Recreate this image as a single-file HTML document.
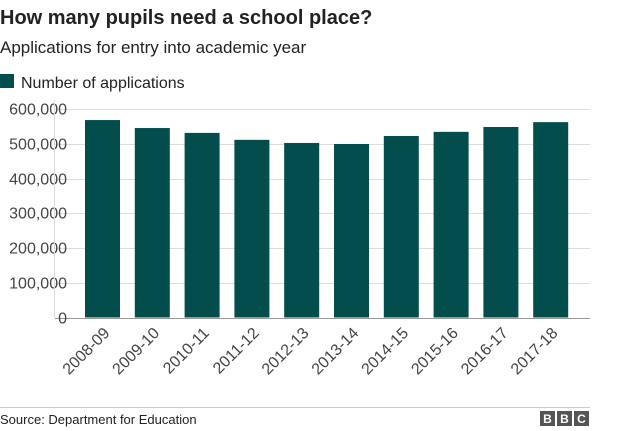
<!DOCTYPE html>
<html><head><meta charset="utf-8"><style>
body{margin:0;background:#fff;font-family:"Liberation Sans",Arial,sans-serif;}
#c{position:relative;width:624px;height:431px;overflow:hidden;}
</style></head><body>
<div id="c">
<svg id="s" width="624" height="431" xmlns="http://www.w3.org/2000/svg" font-family="Liberation Sans, Arial, sans-serif">
<text x="0" y="24" font-size="20" font-weight="bold" fill="#222">How many pupils need a school place?</text>
<text x="0" y="53" font-size="17" fill="#222">Applications for entry into academic year</text>
<rect x="0" y="74" width="14" height="14" fill="#034d4d"/>
<text x="21" y="88" font-size="16" fill="#222">Number of applications</text>
<g id="grid"></g><g id="bars"></g><g id="labels"></g>
<line x1="0" y1="407.5" x2="590" y2="407.5" stroke="#ccc"/>
<text x="0" y="424" font-size="13" fill="#222">Source: Department for Education</text>
<g>
<rect x="540" y="411" width="15" height="15" fill="#555"/><text x="547.5" y="423" font-size="12" font-weight="bold" fill="#fff" text-anchor="middle">B</text>
<rect x="557" y="411" width="15" height="15" fill="#555"/><text x="564.5" y="423" font-size="12" font-weight="bold" fill="#fff" text-anchor="middle">B</text>
<rect x="574" y="411" width="15" height="15" fill="#555"/><text x="581.5" y="423" font-size="12" font-weight="bold" fill="#fff" text-anchor="middle">C</text>
</g>
</svg></div>
<script>
const categories=["2008-09","2009-10","2010-11","2011-12","2012-13","2013-14","2014-15","2015-16","2016-17","2017-18"];
const values=[569000,546000,532000,512000,503000,500000,523000,535000,549000,563000];
const ticks=[0,100000,200000,300000,400000,500000,600000];
const tickLabels=["0","100,000","200,000","300,000","400,000","500,000","600,000"];
const NS="http://www.w3.org/2000/svg";
const y0=317.5,pxPer=34.7/100000;
const y=v=>y0-v*pxPer;
const x=i=>102.5+i*49.8;
const g=document.getElementById('grid'),b=document.getElementById('bars'),l=document.getElementById('labels');
function mk(t,a){const e=document.createElementNS(NS,t);for(const k in a)e.setAttribute(k,a[k]);return e;}
ticks.forEach((t,i)=>{
 const yy=Math.round(y(t))+0.5;
 const ln=mk('line',{x1:55,x2:590,y1:yy,y2:yy,stroke:t===0?'#999':'#ddd'});
 
 
 g.appendChild(ln);
 const tx=mk('text',{x:67,y:yy+5,'font-size':16,fill:'#444','text-anchor':'end'});
 tx.textContent=tickLabels[i];
 
 
 g.appendChild(tx);
});
const ax=mk('line',{x1:54.5,x2:54.5,y1:100,y2:318,stroke:'#ddd'});


g.appendChild(ax);
categories.forEach((c,i)=>{
 const r=mk('rect',{x:x(i)-17.5,y:y(values[i]),width:35,height:y0-y(values[i]),fill:'#034d4d'});
 
 
 b.appendChild(r);
 const cx=x(i)+8,cy=334;
 const t=mk('text',{x:cx,y:cy,'font-size':16,fill:'#444','text-anchor':'end',transform:`rotate(-45 ${cx} ${cy})`});
 t.textContent=c;
 
 
 l.appendChild(t);
});
</script>
</body></html>
